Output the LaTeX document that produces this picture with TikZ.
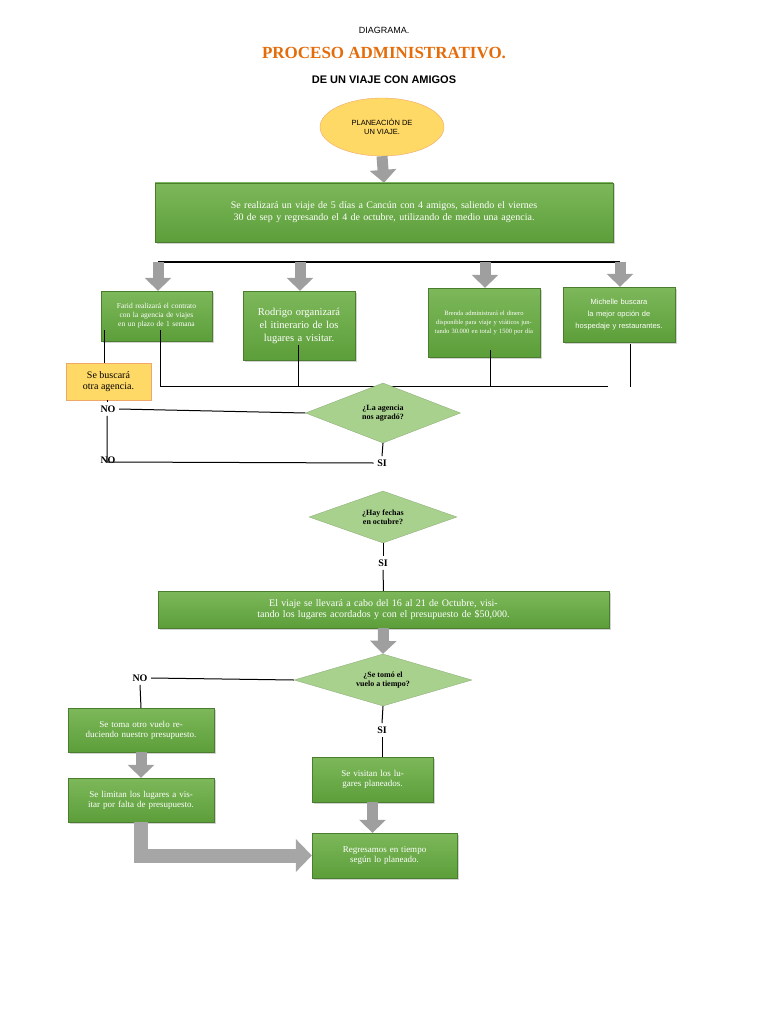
\documentclass[tikz,border=0pt]{standalone}
\usepackage{fontspec}
\setmainfont{Liberation Serif}
\newfontfamily\sansf{Liberation Sans}
\usetikzlibrary{shapes.geometric,arrows.meta,shadows}
\definecolor{gtop}{HTML}{7DB85A}
\definecolor{gbot}{HTML}{5C9E3A}
\definecolor{orng}{HTML}{E46C0A}
\definecolor{ofill}{HTML}{FFD966}
\definecolor{dfill}{HTML}{A9D18E}
\begin{document}
\begin{tikzpicture}[x=1pt,y=-1pt,
 gbox/.style={draw=gbot!80!black,line width=0.3pt,top color=gtop,bottom color=gbot,text=white,align=center,inner sep=3pt,drop shadow={opacity=0.35,shadow xshift=1.5pt,shadow yshift=-1.5pt},font=\fontsize{9}{10}\selectfont},
 dia/.style={diamond,aspect=2.6,fill=dfill,draw=dfill!80!black,line width=0.3pt,inner sep=0pt,align=center,font=\fontsize{8}{9}\selectfont\bfseries},
 lab/.style={font=\fontsize{10}{11}\selectfont\bfseries},
 ln/.style={line width=1pt},
 fat/.style={line width=11pt,draw=gray!75,-{Triangle[length=13pt 0,width=26pt 0]}},
 fatb/.style={line width=14pt,draw=gray!70,-{Triangle[length=16pt 0,width=32pt 0]}}]
\useasboundingbox (0,0) rectangle (768,1024);
\node[font=\sansf\fontsize{9}{10}\selectfont] (t0) at (384,30) {DIAGRAMA.};
\node[font=\fontsize{17}{18}\selectfont\bfseries,text=orng] (t1) at (384,53) {PROCESO ADMINISTRATIVO.};
\node[font=\sansf\fontsize{11}{12}\selectfont\bfseries] (t2) at (384,80) {DE UN VIAJE CON AMIGOS};
\node[ellipse,draw=orng!60,fill=ofill,minimum width=124pt,minimum height=58pt,align=center,font=\sansf\fontsize{7.5}{9}\selectfont] (pl) at (382,127) {PLANEACIÓN DE\\UN VIAJE.};
\node[gbox,minimum width=458pt,minimum height=59pt,text width=440pt,font=\fontsize{10}{12}\selectfont] (b1) at (384,212.5) {Se realizará un viaje de 5 días a Cancún con 4 amigos, saliendo el viernes 30 de sep y regresando el 4 de octubre, utilizando de medio una agencia.};
\draw[fat] (pl.south) -- (b1.north);
\node[gbox,minimum width=111pt,minimum height=50pt,text width=105pt,font=\fontsize{7.5}{9}\selectfont] (fa) at (156.5,316) {Farid realizará el contrato con la agencia de viajes en un plazo de 1 semana};
\node[gbox,minimum width=112pt,minimum height=69pt,text width=104pt,font=\fontsize{10.5}{13}\selectfont] (ro) at (299,325.5) {Rodrigo organizará el itinerario de los lugares a visitar.};
\node[gbox,minimum width=112pt,minimum height=69pt,text width=106pt,font=\fontsize{6.5}{9}\selectfont] (br) at (484,322.5) {Brenda administrará el dinero disponible para viaje y viáticos juntando 30.000 en total y 1500 por día};
\node[gbox,minimum width=112pt,minimum height=55pt,text width=106pt,font=\sansf\fontsize{7.5}{12}\selectfont] (mi) at (619,314.5) {Michelle buscara la mejor opción de hospedaje y restaurantes.};
\coordinate (h1) at (158,262); \coordinate (h2) at (300,262); \coordinate (h3) at (485,262); \coordinate (h4) at (620,262);
\draw[line width=1.2pt] (h1) -- (h4);
\draw[fat] (h1) -- (fa.north -| h1);
\draw[fat] (h2) -- (ro.north -| h2);
\draw[fat] (h3) -- (br.north -| h3);
\draw[fat] (h4) -- (mi.north -| h4);
\node[draw=orng!60,fill=ofill,minimum width=85pt,minimum height=37pt,align=center,font=\fontsize{10}{11}\selectfont] (ot) at (108.5,381.5) {Se buscará\\otra agencia.};
\coordinate (c1) at (160,386); \coordinate (c2) at (608,386);
\draw[ln] (c1) -- (c2);
\draw[ln] (104,330) -- (ot.north -| 104,0);
\draw[ln] (160,330) -- (c1);
\draw[ln] (298,345) -- (298,386);
\draw[ln] (490,350) -- (490,386);
\draw[ln] (630,344) -- (630,387);
\node[dia,minimum width=155pt,minimum height=60pt] (d1) at (383,413) {¿La agencia\\nos agradó?};
\node[lab] (no1) at (108,409) {NO};
\node[lab] (no2) at (108,460) {NO};
\node[lab] (si1) at (382,463) {SI};
\draw[ln] (no1.east) -- (d1.west);
\draw[ln] (ot.south -| 107,0) -- (no1.north -| 107,0);
\draw[ln] (no1.south -| 107,0) -- (107,462) -- (si1.west);
\draw[ln] (d1.south) -- (si1.north);
\node[dia,minimum width=148pt,minimum height=52pt] (d2) at (383,517) {¿Hay fechas\\en octubre?};
\node[lab] (si2) at (383,563) {SI};
\draw[ln] (d2.south) -- (si2.north);
\node[gbox,minimum width=451pt,minimum height=37pt,text width=440pt,font=\fontsize{10}{11}\selectfont] (b2) at (383.5,609.5) {El viaje se llevará a cabo del 16 al 21 de Octubre, visitando los lugares acordados y con el presupuesto de \$50,000.};
\draw[ln] (si2.south) -- (b2.north);
\node[dia,minimum width=178pt,minimum height=52pt] (d3) at (383,680) {¿Se tomó el\\vuelo a tiempo?};
\draw[fat] (b2.south) -- (d3.north);
\node[lab] (no3) at (140,678) {NO};
\draw[ln] (no3.east) -- (d3.west);
\node[gbox,minimum width=146pt,minimum height=44pt,text width=130pt] (v1) at (141,730) {Se toma otro vuelo reduciendo nuestro presupuesto.};
\draw[ln] (no3.south) -- (v1.north);
\node[gbox,minimum width=146pt,minimum height=44pt,text width=134pt] (v2) at (141,800) {Se limitan los lugares a visitar por falta de presupuesto.};
\draw[fat] (v1.south) -- (v2.north);
\node[lab] (si3) at (382,730) {SI};
\draw[ln] (d3.south) -- (si3.north);
\node[gbox,minimum width=121pt,minimum height=45pt,text width=115pt] (s1) at (372.5,779.5) {Se visitan los lugares planeados.};
\draw[ln] (si3.south) -- (s1.north -| si3);
\node[gbox,minimum width=145pt,minimum height=45pt,text width=135pt] (s2) at (384.5,855.5) {Regresamos en tiempo según lo planeado.};
\draw[fat] (s1.south) -- (s2.north -| s1.south);
\draw[fatb] (v2.south) |- (s2.west);
\end{tikzpicture}
\end{document}
